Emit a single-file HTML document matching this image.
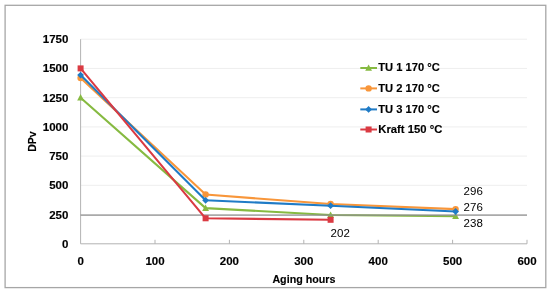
<!DOCTYPE html>
<html><head><meta charset="utf-8"><title>Chart</title>
<style>
html,body{margin:0;padding:0;background:#fff;}
body{width:550px;height:293px;overflow:hidden;}
svg{display:block;}
text{font-family:"Liberation Sans","DejaVu Sans",sans-serif;fill:#000;}
.b{font-weight:bold;font-size:11.5px;stroke:#000;stroke-width:0.15px;}
.r{font-size:11.5px;}
</style></head><body>
<svg width="550" height="293" viewBox="0 0 550 293">
<rect x="0" y="0" width="550" height="293" fill="#fff"/>
<rect x="5.1" y="5.3" width="540.7" height="282.3" fill="#fff" stroke="#a6a6a6" stroke-width="1.3"/>

<line x1="80.6" x2="527.0" y1="214.6" y2="214.6" stroke="#eeeeee" stroke-width="1"/>
<line x1="80.6" x2="527.0" y1="185.3" y2="185.3" stroke="#eeeeee" stroke-width="1"/>
<line x1="80.6" x2="527.0" y1="156.1" y2="156.1" stroke="#eeeeee" stroke-width="1"/>
<line x1="80.6" x2="527.0" y1="126.9" y2="126.9" stroke="#eeeeee" stroke-width="1"/>
<line x1="80.6" x2="527.0" y1="97.7" y2="97.7" stroke="#eeeeee" stroke-width="1"/>
<line x1="80.6" x2="527.0" y1="68.4" y2="68.4" stroke="#eeeeee" stroke-width="1"/>
<line x1="80.6" x2="527.0" y1="39.2" y2="39.2" stroke="#eeeeee" stroke-width="1"/>
<line x1="80.6" x2="80.6" y1="39.2" y2="243.8" stroke="#b3b3b3" stroke-width="1"/>
<line x1="80.6" x2="527.0" y1="243.8" y2="243.8" stroke="#b3b3b3" stroke-width="1"/>
<line x1="155.0" x2="155.0" y1="239.8" y2="243.8" stroke="#b3b3b3" stroke-width="1"/>
<line x1="229.4" x2="229.4" y1="239.8" y2="243.8" stroke="#b3b3b3" stroke-width="1"/>
<line x1="303.8" x2="303.8" y1="239.8" y2="243.8" stroke="#b3b3b3" stroke-width="1"/>
<line x1="378.2" x2="378.2" y1="239.8" y2="243.8" stroke="#b3b3b3" stroke-width="1"/>
<line x1="452.6" x2="452.6" y1="239.8" y2="243.8" stroke="#b3b3b3" stroke-width="1"/>
<line x1="527.0" x2="527.0" y1="239.8" y2="243.8" stroke="#b3b3b3" stroke-width="1"/>
<polyline points="80.6,97.7 205.6,208.1 330.6,215.0 455.6,216.2" fill="none" stroke="#86BA41" stroke-width="2.1" stroke-linejoin="round" stroke-linecap="round"/>
<polygon points="80.6,94.1 84.0,100.5 77.2,100.5" fill="#86BA41"/>
<polygon points="205.6,204.5 209.0,210.9 202.2,210.9" fill="#86BA41"/>
<polygon points="330.6,211.4 334.0,217.8 327.2,217.8" fill="#86BA41"/>
<polygon points="455.6,212.6 459.0,219.0 452.2,219.0" fill="#86BA41"/>
<line x1="80.6" x2="527.0" y1="215.1" y2="215.1" stroke="#8e8e8e" stroke-width="1.3"/>
<polyline points="80.6,78.0 205.6,194.5 330.6,204.0 455.6,209.1" fill="none" stroke="#F8963A" stroke-width="2.1" stroke-linejoin="round" stroke-linecap="round"/>
<circle cx="80.6" cy="78.0" r="3.2" fill="#F8963A"/>
<circle cx="205.6" cy="194.5" r="3.2" fill="#F8963A"/>
<circle cx="330.6" cy="204.0" r="3.2" fill="#F8963A"/>
<circle cx="455.6" cy="209.1" r="3.2" fill="#F8963A"/>
<polyline points="80.6,75.1 205.6,200.3 330.6,205.7 455.6,211.5" fill="none" stroke="#1F7BC6" stroke-width="2.1" stroke-linejoin="round" stroke-linecap="round"/>
<polygon points="80.6,71.7 84.0,75.1 80.6,78.5 77.2,75.1" fill="#1F7BC6"/>
<polygon points="205.6,196.9 209.0,200.3 205.6,203.7 202.2,200.3" fill="#1F7BC6"/>
<polygon points="330.6,202.3 334.0,205.7 330.6,209.1 327.2,205.7" fill="#1F7BC6"/>
<polygon points="455.6,208.1 459.0,211.5 455.6,214.9 452.2,211.5" fill="#1F7BC6"/>
<polyline points="80.6,68.4 205.6,218.3 330.6,219.8" fill="none" stroke="#DA3A42" stroke-width="2.1" stroke-linejoin="round" stroke-linecap="round"/>
<rect x="77.6" y="65.4" width="6" height="6" fill="#DA3A42"/>
<rect x="202.6" y="215.3" width="6" height="6" fill="#DA3A42"/>
<rect x="327.6" y="216.8" width="6" height="6" fill="#DA3A42"/>
<text class="b" x="68.4" y="247.7" text-anchor="end">0</text>
<text class="b" x="68.4" y="218.5" text-anchor="end">250</text>
<text class="b" x="68.4" y="189.2" text-anchor="end">500</text>
<text class="b" x="68.4" y="160.0" text-anchor="end">750</text>
<text class="b" x="68.4" y="130.8" text-anchor="end">1000</text>
<text class="b" x="68.4" y="101.6" text-anchor="end">1250</text>
<text class="b" x="68.4" y="72.3" text-anchor="end">1500</text>
<text class="b" x="68.4" y="43.1" text-anchor="end">1750</text>
<text class="b" x="80.6" y="264.8" text-anchor="middle">0</text>
<text class="b" x="155.0" y="264.8" text-anchor="middle">100</text>
<text class="b" x="229.4" y="264.8" text-anchor="middle">200</text>
<text class="b" x="303.8" y="264.8" text-anchor="middle">300</text>
<text class="b" x="378.2" y="264.8" text-anchor="middle">400</text>
<text class="b" x="452.6" y="264.8" text-anchor="middle">500</text>
<text class="b" x="527.0" y="264.8" text-anchor="middle">600</text>
<text class="b" x="272.4" y="283" textLength="63" lengthAdjust="spacingAndGlyphs">Aging hours</text>
<text class="b" transform="translate(36.2,151.8) rotate(-90)" textLength="20.4" lengthAdjust="spacingAndGlyphs">DPv</text>
<text class="r" x="463.6" y="195.3">296</text>
<text class="r" x="463.6" y="210.6">276</text>
<text class="r" x="463.6" y="227.3">238</text>
<text class="r" x="330.6" y="237.2">202</text>
<line x1="360.3" x2="377" y1="68.0" y2="68.0" stroke="#86BA41" stroke-width="2"/>
<polygon points="368.6,64.4 372.0,70.8 365.2,70.8" fill="#86BA41"/>
<text class="b" x="378.3" y="71.4" textLength="61.5" lengthAdjust="spacingAndGlyphs">TU 1 170 °C</text>
<line x1="360.3" x2="377" y1="88.4" y2="88.4" stroke="#F8963A" stroke-width="2"/>
<circle cx="368.6" cy="88.4" r="3.2" fill="#F8963A"/>
<text class="b" x="378.3" y="91.8" textLength="61.5" lengthAdjust="spacingAndGlyphs">TU 2 170 °C</text>
<line x1="360.3" x2="377" y1="109.4" y2="109.4" stroke="#1F7BC6" stroke-width="2"/>
<polygon points="368.6,106.0 372.0,109.4 368.6,112.8 365.2,109.4" fill="#1F7BC6"/>
<text class="b" x="378.3" y="112.8" textLength="61.5" lengthAdjust="spacingAndGlyphs">TU 3 170 °C</text>
<line x1="360.3" x2="377" y1="129.5" y2="129.5" stroke="#DA3A42" stroke-width="2"/>
<rect x="365.6" y="126.5" width="6" height="6" fill="#DA3A42"/>
<text class="b" x="378.3" y="132.9" textLength="64" lengthAdjust="spacingAndGlyphs">Kraft 150 °C</text>
</svg></body></html>
